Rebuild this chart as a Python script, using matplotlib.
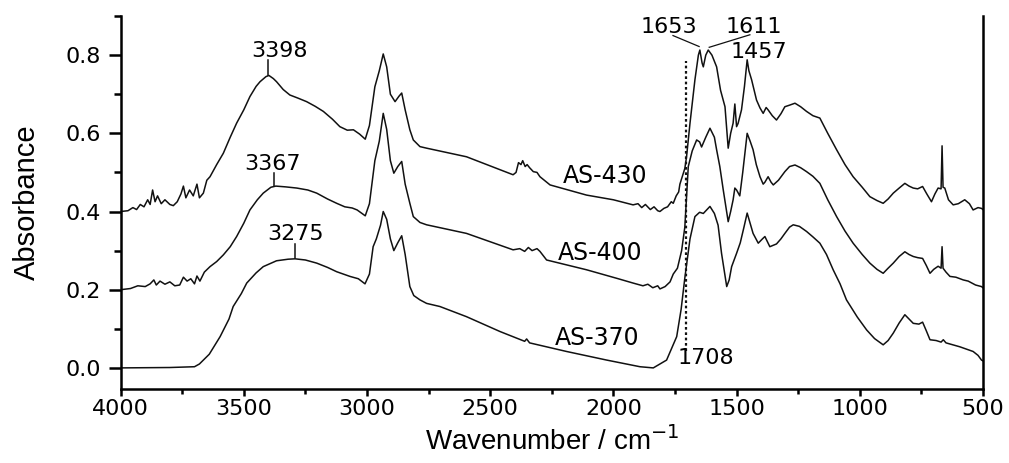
import matplotlib
matplotlib.use('Agg')
import matplotlib.pyplot as plt
from matplotlib.ticker import MultipleLocator

# wavenumber (cm-1) and absorbance
as370_wn = [4000, 3800, 3700, 3680, 3640, 3596, 3560, 3543, 3510, 3488, 3450, 3421, 3367, 3320, 3292,
            3250, 3204, 3160, 3123, 3069, 3035, 3008, 2990, 2975, 2962, 2945, 2934, 2920, 2905, 2891,
            2875, 2859, 2845, 2826, 2810, 2785, 2758, 2704, 2596, 2460, 2360, 2352, 2340, 2190, 2027,
            1892, 1838, 1784, 1743, 1725, 1710, 1689, 1669, 1650, 1635, 1608, 1590, 1575, 1561, 1540,
            1530, 1520, 1500, 1485, 1470, 1457, 1445, 1433, 1412, 1395, 1385, 1365, 1338, 1320, 1304,
            1285, 1270, 1245, 1216, 1190, 1162, 1135, 1108, 1080, 1054, 1010, 972, 940, 905, 885,
            864, 840, 817, 800, 783, 760, 745, 730, 715, 690, 670, 661, 650, 594, 540, 520, 506, 500]
as370_ab = [0.000, 0.001, 0.003, 0.010, 0.035, 0.080, 0.125, 0.157, 0.190, 0.217, 0.243, 0.259, 0.274, 0.278, 0.279,
            0.276, 0.268, 0.257, 0.246, 0.234, 0.228, 0.215, 0.240, 0.310, 0.330, 0.365, 0.400, 0.380, 0.330, 0.300,
            0.320, 0.338, 0.290, 0.208, 0.185, 0.174, 0.165, 0.157, 0.131, 0.093, 0.068, 0.074, 0.064, 0.042, 0.020,
            0.003, 0.000, 0.020, 0.080, 0.150, 0.230, 0.330, 0.387, 0.398, 0.395, 0.413, 0.395, 0.365, 0.293, 0.208,
            0.225, 0.259, 0.293, 0.320, 0.360, 0.396, 0.370, 0.344, 0.319, 0.330, 0.336, 0.310, 0.317, 0.330, 0.344,
            0.360, 0.366, 0.362, 0.349, 0.335, 0.319, 0.290, 0.251, 0.215, 0.174, 0.130, 0.097, 0.075, 0.059, 0.070,
            0.089, 0.115, 0.136, 0.125, 0.114, 0.112, 0.117, 0.095, 0.072, 0.070, 0.066, 0.072, 0.064, 0.054, 0.042, 0.032, 0.020, 0.018]

as400_wn = [4000, 3960, 3930, 3900, 3880, 3865, 3855, 3840, 3820, 3800, 3780, 3760, 3745, 3730, 3715,
            3700, 3690, 3678, 3660, 3637, 3610, 3583, 3555, 3529, 3500, 3475, 3445, 3421, 3390, 3370,
            3330, 3285, 3240, 3204, 3160, 3123, 3090, 3060, 3040, 3020, 3007, 2990, 2968, 2950, 2934,
            2920, 2905, 2891, 2875, 2859, 2845, 2826, 2812, 2785, 2758, 2596, 2407, 2380, 2360, 2345,
            2330, 2310, 2298, 2271, 2109, 1980, 1920, 1880, 1860, 1840, 1820, 1811, 1790, 1770, 1757,
            1740, 1723, 1710, 1696, 1680, 1662, 1650, 1642, 1625, 1608, 1590, 1581, 1568, 1554, 1534,
            1524, 1514, 1507, 1500, 1487, 1475, 1457, 1445, 1433, 1420, 1405, 1392, 1385, 1372, 1360,
            1351, 1330, 1304, 1285, 1263, 1240, 1216, 1190, 1162, 1130, 1094, 1060, 1027, 990, 959,
            930, 905, 885, 864, 840, 817, 800, 783, 765, 745, 730, 715, 700, 682, 670,
            666, 662, 650, 634, 610, 580, 560, 530, 506, 500]
as400_ab = [0.200, 0.203, 0.210, 0.208, 0.215, 0.225, 0.212, 0.222, 0.214, 0.220, 0.210, 0.212, 0.232, 0.222, 0.228,
            0.215, 0.235, 0.222, 0.245, 0.259, 0.272, 0.289, 0.310, 0.336, 0.370, 0.404, 0.430, 0.447, 0.462, 0.465,
            0.463, 0.460, 0.455, 0.447, 0.432, 0.421, 0.412, 0.409, 0.404, 0.395, 0.389, 0.420, 0.530, 0.580, 0.651,
            0.610, 0.530, 0.498, 0.515, 0.528, 0.470, 0.421, 0.387, 0.372, 0.366, 0.344, 0.302, 0.305, 0.298, 0.308,
            0.300, 0.305, 0.298, 0.276, 0.251, 0.228, 0.217, 0.210, 0.214, 0.205, 0.210, 0.202, 0.208, 0.220, 0.240,
            0.255, 0.300, 0.360, 0.515, 0.555, 0.583, 0.578, 0.565, 0.590, 0.613, 0.590, 0.558, 0.515, 0.455, 0.374,
            0.400, 0.430, 0.460, 0.455, 0.440, 0.500, 0.600, 0.580, 0.558, 0.520, 0.489, 0.470, 0.475, 0.489, 0.475,
            0.468, 0.480, 0.502, 0.515, 0.519, 0.512, 0.502, 0.490, 0.472, 0.430, 0.387, 0.350, 0.319, 0.290, 0.268,
            0.252, 0.242, 0.255, 0.268, 0.285, 0.297, 0.290, 0.285, 0.282, 0.280, 0.262, 0.242, 0.252, 0.260, 0.255,
            0.310, 0.255, 0.245, 0.234, 0.232, 0.225, 0.222, 0.212, 0.208, 0.205]

as430_wn = [4000, 3970, 3950, 3935, 3920, 3905, 3890, 3880, 3870, 3860, 3850, 3835, 3820, 3800, 3786,
            3770, 3755, 3745, 3735, 3720, 3705, 3690, 3680, 3664, 3650, 3637, 3610, 3583, 3555, 3529,
            3500, 3475, 3450, 3434, 3410, 3398, 3380, 3367, 3340, 3313, 3280, 3245, 3210, 3177, 3140,
            3110, 3080, 3055, 3030, 3007, 2990, 2968, 2950, 2934, 2920, 2905, 2886, 2870, 2859, 2845,
            2826, 2812, 2785, 2758, 2596, 2407, 2395, 2385, 2375, 2368, 2358, 2350, 2340, 2325, 2310,
            2298, 2257, 2109, 2000, 1950, 1920, 1900, 1885, 1870, 1850, 1835, 1820, 1811, 1795, 1780,
            1765, 1757, 1745, 1735, 1730, 1720, 1710, 1703, 1689, 1669, 1655, 1649, 1640, 1635, 1625,
            1615, 1600, 1581, 1565, 1547, 1534, 1524, 1514, 1507, 1500, 1494, 1480, 1468, 1457, 1450,
            1439, 1419, 1405, 1392, 1380, 1372, 1355, 1338, 1320, 1304, 1285, 1263, 1240, 1216, 1190,
            1162, 1130, 1094, 1060, 1027, 990, 959, 930, 905, 885, 864, 840, 817, 800, 783,
            765, 745, 728, 709, 695, 682, 670, 666, 662, 655, 640, 621, 600, 574, 555,
            540, 520, 506, 500]
as430_ab = [0.400, 0.402, 0.410, 0.405, 0.418, 0.412, 0.430, 0.418, 0.455, 0.425, 0.440, 0.420, 0.430, 0.418, 0.415,
            0.425, 0.445, 0.465, 0.435, 0.455, 0.440, 0.470, 0.435, 0.447, 0.480, 0.489, 0.520, 0.549, 0.590, 0.626,
            0.660, 0.694, 0.720, 0.732, 0.745, 0.748, 0.740, 0.732, 0.712, 0.698, 0.690, 0.681, 0.669, 0.656, 0.636,
            0.617, 0.608, 0.609, 0.598, 0.585, 0.620, 0.719, 0.760, 0.803, 0.770, 0.700, 0.681, 0.695, 0.703, 0.660,
            0.609, 0.583, 0.566, 0.562, 0.540, 0.494, 0.500, 0.525, 0.520, 0.530, 0.515, 0.520, 0.512, 0.502, 0.500,
            0.489, 0.468, 0.442, 0.430, 0.422, 0.417, 0.420, 0.410, 0.418, 0.405, 0.412, 0.402, 0.400, 0.408, 0.412,
            0.425, 0.421, 0.440, 0.450, 0.470, 0.490, 0.510, 0.540, 0.626, 0.737, 0.800, 0.813, 0.780, 0.770, 0.800,
            0.813, 0.800, 0.770, 0.710, 0.668, 0.562, 0.600, 0.626, 0.675, 0.617, 0.625, 0.660, 0.720, 0.788, 0.760,
            0.737, 0.685, 0.665, 0.651, 0.666, 0.660, 0.645, 0.634, 0.650, 0.668, 0.672, 0.677, 0.668, 0.656, 0.645,
            0.639, 0.600, 0.558, 0.520, 0.489, 0.462, 0.438, 0.428, 0.421, 0.432, 0.447, 0.460, 0.472, 0.465, 0.460,
            0.458, 0.464, 0.445, 0.425, 0.445, 0.460, 0.458, 0.568, 0.462, 0.460, 0.430, 0.417, 0.420, 0.430, 0.420,
            0.404, 0.410, 0.408, 0.405]

series_names = ['AS-430', 'AS-400', 'AS-370']

fig = plt.figure(figsize=(10.09, 4.63), dpi=100)
ax = fig.add_axes([0.1195, 0.1598, 0.8547, 0.8056])

for wn, ab in [(as430_wn, as430_ab), (as400_wn, as400_ab), (as370_wn, as370_ab)]:
    ax.plot(wn, ab, color='#111111', lw=1.1)

ax.set_xlim(4000, 500)
ax.set_ylim(-0.054, 0.90)
ax.xaxis.set_major_locator(MultipleLocator(500))
ax.xaxis.set_minor_locator(MultipleLocator(250))
ax.yaxis.set_major_locator(MultipleLocator(0.2))
ax.yaxis.set_minor_locator(MultipleLocator(0.1))
ax.yaxis.set_major_formatter(plt.FormatStrFormatter('%.1f'))
ax.spines['top'].set_visible(False)
for s in ['left', 'bottom', 'right']:
    ax.spines[s].set_linewidth(1.8)
ax.tick_params(which='both', direction='out', width=1.8, right=False, top=False)
ax.tick_params(axis='x', which='major', length=5, labelsize=16, pad=2)
ax.tick_params(axis='x', which='minor', length=3.5)
ax.tick_params(axis='y', which='major', length=9, labelsize=16, pad=5)
ax.tick_params(axis='y', which='minor', length=5)

lab_font = ['Liberation Sans Narrow', 'Liberation Sans']
ax.set_xlabel('Wavenumber / cm$^{-1}$', fontsize=20, family=lab_font)
ax.xaxis.set_label_coords(0.5, -0.1)
ax.set_ylabel('Absorbance', fontsize=21, family=lab_font)
ax.yaxis.set_label_coords(-0.092, 0.5)

# sample names
ax.text(2205, 0.473, series_names[0], fontsize=17, ha='left', va='baseline')
ax.text(2225, 0.276, series_names[1], fontsize=17, ha='left', va='baseline')
ax.text(2237, 0.059, series_names[2], fontsize=17, ha='left', va='baseline')

# peak markers
ann = dict(fontsize=16, ha='center', va='baseline')
ax.plot([3400, 3400], [0.750, 0.788], color='#111111', lw=1.1)
ax.text(3357, 0.795, '3398', **ann)
ax.plot([3377, 3377], [0.465, 0.499], color='#111111', lw=1.1)
ax.text(3385, 0.506, '3367', **ann)
ax.plot([3292, 3292], [0.281, 0.318], color='#111111', lw=1.1)
ax.text(3290, 0.327, '3275', **ann)

ax.text(1410, 0.792, '1457', **ann)
ax.text(1776, 0.856, '1653', clip_on=False, **ann)
ax.text(1432, 0.856, '1611', clip_on=False, **ann)
ax.plot([1758, 1652], [0.850, 0.822], color='#111111', lw=0.9, clip_on=False)
ax.plot([1611, 1446], [0.820, 0.852], color='#111111', lw=0.9, clip_on=False)

ax.plot([1705, 1705], [0.042, 0.785], color='#111111', lw=1.6, ls=(0, (1.2, 1.2)))
ax.text(1740, 0.010, '1708', fontsize=16, ha='left', va='baseline')

fig.savefig('out.png', dpi=100)
